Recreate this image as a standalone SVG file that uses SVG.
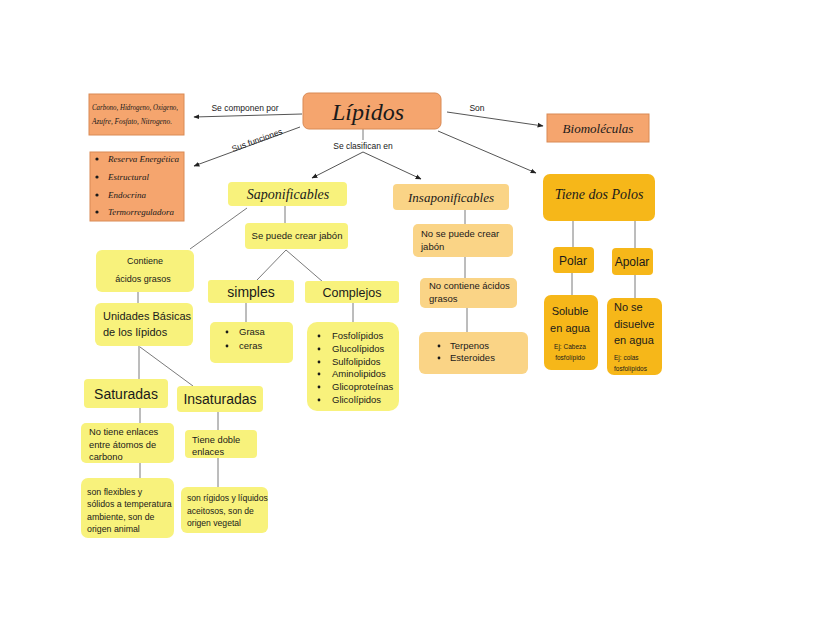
<svg xmlns="http://www.w3.org/2000/svg" width="829" height="640" viewBox="0 0 829 640">
<defs>
<style>
.or{fill:#F5A56E;stroke:#D98A55;stroke-width:1}
.ye{fill:#F8F27C}
.ip{fill:#FAD486}
.go{fill:#F6B719}
.sc{font-family:"Liberation Serif",serif;font-style:italic;fill:#1a1a1a}
.tx{font-family:"Liberation Sans",sans-serif;fill:#1a1a1a}
.lb{font-family:"Liberation Sans",sans-serif;font-size:8.5px;fill:#1a1a1a}
.cn line{stroke:#7a7a7a;stroke-width:1}
.ar{stroke:#555 !important}
</style>
<marker id="ah" viewBox="0 0 10 10" refX="9" refY="5" markerWidth="6" markerHeight="6" orient="auto"><path d="M0,1 L10,5 L0,9z" fill="#222"/></marker>
</defs>
<rect width="829" height="640" fill="#fff"/>

<g id="connectors" class="cn">
<line class="ar" x1="302" y1="114" x2="194" y2="117" marker-end="url(#ah)"/>
<line class="ar" x1="300" y1="127" x2="194" y2="166" marker-end="url(#ah)"/>
<line class="ar" x1="447" y1="112" x2="543" y2="126" marker-end="url(#ah)"/>
<line class="ar" x1="438" y1="131" x2="536" y2="173" marker-end="url(#ah)"/>
<line x1="363" y1="129" x2="363" y2="140"/>
<line class="ar" x1="363" y1="152" x2="312" y2="178" marker-end="url(#ah)"/>
<line class="ar" x1="363" y1="152" x2="421" y2="179" marker-end="url(#ah)"/>
<line x1="285" y1="206" x2="285" y2="223"/>
<line x1="247" y1="208" x2="190" y2="249"/>
<line x1="286" y1="250" x2="257" y2="280"/>
<line x1="286" y1="250" x2="323" y2="282"/>
<line x1="246" y1="303" x2="246" y2="322"/>
<line x1="353" y1="303" x2="353" y2="322"/>
<line x1="138" y1="292" x2="138" y2="303"/>
<line x1="139" y1="346" x2="139" y2="379"/>
<line x1="140" y1="347" x2="193" y2="386"/>
<line x1="140" y1="408" x2="140" y2="423"/>
<line x1="218" y1="412" x2="218" y2="430"/>
<line x1="140" y1="463" x2="140" y2="478"/>
<line x1="218" y1="458" x2="218" y2="487"/>
<line x1="465" y1="210" x2="465" y2="224"/>
<line x1="465" y1="257" x2="465" y2="278"/>
<line x1="467" y1="308" x2="467" y2="332"/>
<line x1="573" y1="221" x2="573" y2="247"/>
<line x1="635" y1="221" x2="635" y2="248"/>
<line x1="572" y1="273" x2="572" y2="295"/>
<line x1="635" y1="275" x2="635" y2="298"/>
</g>

<g id="edge-labels">
<text class="lb" x="245" y="111" text-anchor="middle">Se componen por</text>
<text class="lb" x="477" y="111" text-anchor="middle">Son</text>
<text class="lb" x="363" y="149" text-anchor="middle">Se clasifican en</text>
<text class="lb" x="257" y="143" text-anchor="middle" transform="rotate(-20 257 140)">Sus funciones</text>
</g>

<g id="lipidos">
<rect class="or" x="303" y="93" width="138" height="36" rx="6"/>
<text class="sc" x="368" y="120" font-size="24" text-anchor="middle">Lípidos</text>
</g>

<g id="composicion">
<rect class="or" x="89" y="94" width="95" height="41"/>
<text class="sc" x="92" y="110" font-size="7.5" textLength="86" lengthAdjust="spacingAndGlyphs">Carbono, Hidrogeno, Oxigeno,</text>
<text class="sc" x="92" y="124" font-size="7.5" textLength="80" lengthAdjust="spacingAndGlyphs">Azufre, Fosfato, Nitrogeno.</text>
</g>

<g id="funciones">
<rect class="or" x="90" y="152" width="94" height="69"/>
<g fill="#1a1a1a"><circle cx="97" cy="159" r="1.6"/><circle cx="97" cy="177" r="1.6"/><circle cx="97" cy="195" r="1.6"/><circle cx="97" cy="212" r="1.6"/></g>
<text class="sc" x="108" y="162" font-size="9" textLength="71" lengthAdjust="spacingAndGlyphs">Reserva Energética</text>
<text class="sc" x="108" y="180" font-size="9">Estructural</text>
<text class="sc" x="108" y="198" font-size="9">Endocrina</text>
<text class="sc" x="108" y="215" font-size="9" textLength="66" lengthAdjust="spacingAndGlyphs">Termorreguladora</text>
</g>

<g id="biomoleculas">
<rect class="or" x="547" y="114" width="102" height="28"/>
<text class="sc" x="598" y="133" font-size="13" text-anchor="middle">Biomoléculas</text>
</g>

<g id="tiene-dos-polos">
<rect class="go" x="543" y="174" width="112" height="47" rx="7"/>
<text class="sc" x="599" y="199" font-size="14" text-anchor="middle">Tiene dos Polos</text>
</g>
<g id="polar">
<rect class="go" x="553" y="247" width="41" height="26" rx="4"/>
<text class="tx" x="573" y="265" font-size="12" text-anchor="middle">Polar</text>
</g>
<g id="apolar">
<rect class="go" x="612" y="248" width="41" height="27" rx="4"/>
<text class="tx" x="632" y="266" font-size="12" text-anchor="middle">Apolar</text>
</g>
<g id="soluble">
<rect class="go" x="544" y="295" width="54" height="75" rx="7"/>
<text class="tx" x="570" y="315" font-size="11" text-anchor="middle">Soluble</text>
<text class="tx" x="570" y="332" font-size="11" text-anchor="middle">en agua</text>
<text class="tx" x="570" y="349" font-size="6.5" text-anchor="middle">Ej: Cabeza</text>
<text class="tx" x="570" y="360" font-size="6.5" text-anchor="middle">fosfolípido</text>
</g>
<g id="no-disuelve">
<rect class="go" x="607" y="298" width="55" height="77" rx="7"/>
<text class="tx" x="614" y="311" font-size="11">No se</text>
<text class="tx" x="614" y="328" font-size="11">disuelve</text>
<text class="tx" x="614" y="344" font-size="11">en agua</text>
<text class="tx" x="614" y="360" font-size="6.5">Ej: colas</text>
<text class="tx" x="614" y="371" font-size="6.5">fosfolípidos</text>
</g>

<g id="saponificables">
<rect class="ye" x="228" y="182" width="119" height="24" rx="4"/>
<text class="sc" x="288" y="199" font-size="14" text-anchor="middle">Saponificables</text>
</g>
<g id="se-puede-crear-jabon">
<rect class="ye" x="245" y="223" width="103" height="26" rx="4"/>
<text class="tx" x="297" y="239" font-size="9.5" text-anchor="middle">Se puede crear jabón</text>
</g>
<g id="simples">
<rect class="ye" x="208" y="280" width="86" height="23" rx="3"/>
<text class="tx" x="251" y="297" font-size="14" text-anchor="middle">simples</text>
</g>
<g id="complejos">
<rect class="ye" x="305" y="281" width="94" height="22" rx="3"/>
<text class="tx" x="352" y="297" font-size="12.5" text-anchor="middle">Complejos</text>
</g>
<g id="grasa-ceras">
<rect class="ye" x="210" y="322" width="83" height="41" rx="5"/>
<g fill="#1a1a1a"><circle cx="227" cy="332" r="1.4"/><circle cx="227" cy="346" r="1.4"/></g>
<text class="tx" x="239" y="335" font-size="9.5">Grasa</text>
<text class="tx" x="239" y="349" font-size="9.5">ceras</text>
</g>
<g id="lista-complejos">
<rect class="ye" x="307" y="322" width="92" height="89" rx="10"/>
<g fill="#1a1a1a"><circle cx="319" cy="336" r="1.4"/><circle cx="319" cy="349" r="1.4"/><circle cx="319" cy="362" r="1.4"/><circle cx="319" cy="374" r="1.4"/><circle cx="319" cy="387" r="1.4"/><circle cx="319" cy="400" r="1.4"/></g>
<text class="tx" x="332" y="339" font-size="9.5">Fosfolípidos</text>
<text class="tx" x="332" y="352" font-size="9.5">Glucolípidos</text>
<text class="tx" x="332" y="365" font-size="9.5">Sulfolipidos</text>
<text class="tx" x="332" y="377" font-size="9.5">Aminolipidos</text>
<text class="tx" x="332" y="390" font-size="9.5">Glicoproteínas</text>
<text class="tx" x="332" y="403" font-size="9.5">Glicolípidos</text>
</g>

<g id="contiene-acidos-grasos">
<rect class="ye" x="96" y="250" width="98" height="42" rx="6"/>
<text class="tx" x="145" y="264" font-size="9" text-anchor="middle">Contiene</text>
<text class="tx" x="143" y="282" font-size="9" text-anchor="middle">ácidos grasos</text>
</g>
<g id="unidades-basicas">
<rect class="ye" x="95" y="303" width="98" height="43" rx="6"/>
<text class="tx" x="103" y="320" font-size="11">Unidades Básicas</text>
<text class="tx" x="103" y="336" font-size="11">de los lípidos</text>
</g>
<g id="saturadas">
<rect class="ye" x="84" y="379" width="84" height="29" rx="4"/>
<text class="tx" x="126" y="399" font-size="14" text-anchor="middle">Saturadas</text>
</g>
<g id="insaturadas">
<rect class="ye" x="177" y="386" width="86" height="26" rx="4"/>
<text class="tx" x="220" y="404" font-size="14" text-anchor="middle">Insaturadas</text>
</g>
<g id="no-tiene-enlaces">
<rect class="ye" x="81" y="423" width="93" height="40" rx="5"/>
<text class="tx" x="89" y="435" font-size="9.3">No tiene enlaces</text>
<text class="tx" x="89" y="448" font-size="9.3">entre átomos de</text>
<text class="tx" x="89" y="460" font-size="9.3">carbono</text>
</g>
<g id="tiene-doble-enlaces">
<rect class="ye" x="185" y="430" width="72" height="28" rx="4"/>
<text class="tx" x="192" y="443" font-size="9.3">Tiene doble</text>
<text class="tx" x="192" y="455" font-size="9.3">enlaces</text>
</g>
<g id="son-flexibles">
<rect class="ye" x="81" y="478" width="93" height="60" rx="7"/>
<text class="tx" x="87" y="495" font-size="8.8">son flexibles y</text>
<text class="tx" x="87" y="507" font-size="8.8">sólidos a temperatura</text>
<text class="tx" x="87" y="520" font-size="8.8">ambiente, son de</text>
<text class="tx" x="87" y="532" font-size="8.8">origen animal</text>
</g>
<g id="son-rigidos">
<rect class="ye" x="181" y="487" width="87" height="46" rx="6"/>
<text class="tx" x="187" y="501" font-size="8.6">son rígidos y líquidos</text>
<text class="tx" x="187" y="514" font-size="8.6">aceitosos, son de</text>
<text class="tx" x="187" y="526" font-size="8.6">origen vegetal</text>
</g>

<g id="insaponificables">
<rect class="ip" x="393" y="184" width="116" height="26" rx="4"/>
<text class="sc" x="451" y="202" font-size="13" text-anchor="middle">Insaponificables</text>
</g>
<g id="no-se-puede-crear-jabon">
<rect class="ip" x="413" y="224" width="100" height="33" rx="5"/>
<text class="tx" x="421" y="237" font-size="9.5">No se puede crear</text>
<text class="tx" x="421" y="250" font-size="9.5">jabón</text>
</g>
<g id="no-contiene-acidos">
<rect class="ip" x="420" y="278" width="97" height="30" rx="5"/>
<text class="tx" x="429" y="289" font-size="9.5">No contiene ácidos</text>
<text class="tx" x="429" y="302" font-size="9.5">grasos</text>
</g>
<g id="terpenos-esteroides">
<rect class="ip" x="419" y="332" width="109" height="42" rx="6"/>
<g fill="#1a1a1a"><circle cx="439" cy="346" r="1.4"/><circle cx="439" cy="358" r="1.4"/></g>
<text class="tx" x="450" y="349" font-size="9.5">Terpenos</text>
<text class="tx" x="450" y="361" font-size="9.5">Esteroides</text>
</g>
</svg>
